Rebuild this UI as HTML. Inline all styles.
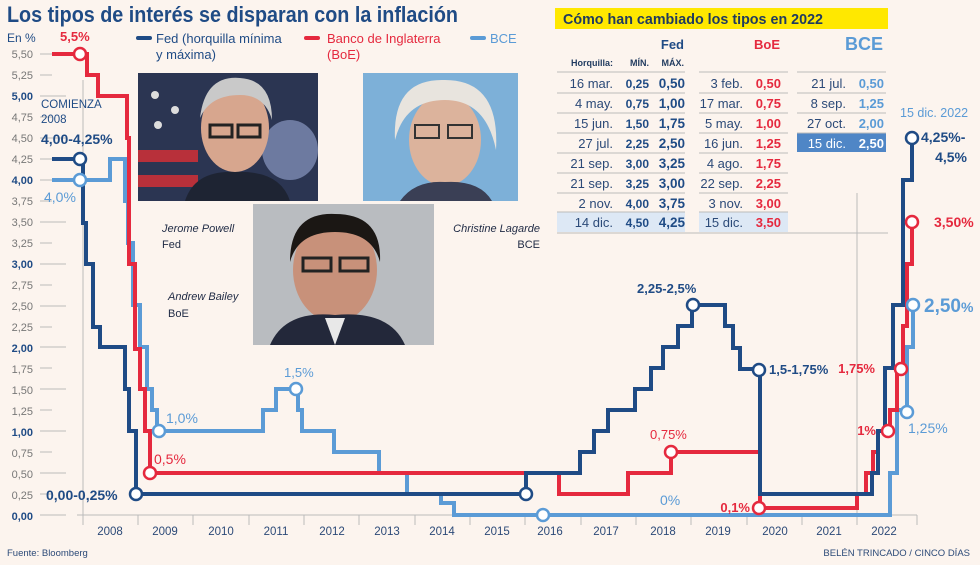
<!DOCTYPE html>
<html><head><meta charset="utf-8">
<style>
html,body{margin:0;padding:0;background:#fcf4ee;}
svg{display:block;font-family:"Liberation Sans",sans-serif;}
</style></head><body>
<svg width="980" height="565" viewBox="0 0 980 565" xmlns="http://www.w3.org/2000/svg">
<rect width="980" height="565" fill="#fcf4ee"/>
<text x="7" y="22" font-size="22" font-weight="bold" fill="#1f4b85" textLength="451" lengthAdjust="spacingAndGlyphs">Los tipos de interés se disparan con la inflación</text>

<!-- y axis -->
<g font-size="11" fill="#777" text-anchor="end">
<text x="7" y="42" text-anchor="start" font-size="12" fill="#1f4b85">En %</text>
<text x="33" y="58">5,50</text><text x="33" y="79">5,25</text>
<text x="33" y="100" font-weight="bold" fill="#1f4b85">5,00</text>
<text x="33" y="121">4,75</text><text x="33" y="142">4,50</text><text x="33" y="163">4,25</text>
<text x="33" y="184" font-weight="bold" fill="#1f4b85">4,00</text>
<text x="33" y="205">3,75</text><text x="33" y="226">3,50</text><text x="33" y="247">3,25</text>
<text x="33" y="268" font-weight="bold" fill="#1f4b85">3,00</text>
<text x="33" y="289">2,75</text><text x="33" y="310">2,50</text><text x="33" y="331">2,25</text>
<text x="33" y="352" font-weight="bold" fill="#1f4b85">2,00</text>
<text x="33" y="373">1,75</text><text x="33" y="394">1,50</text><text x="33" y="415">1,25</text>
<text x="33" y="436" font-weight="bold" fill="#1f4b85">1,00</text>
<text x="33" y="457">0,75</text><text x="33" y="478">0,50</text><text x="33" y="499">0,25</text>
<text x="33" y="520" font-weight="bold" fill="#1f4b85">0,00</text>
</g>
<g stroke="#bbb" stroke-width="1">
<line x1="40" y1="54" x2="52" y2="54"/><line x1="40" y1="75" x2="52" y2="75"/><line x1="40" y1="96" x2="66" y2="96"/>
<line x1="40" y1="117" x2="52" y2="117"/><line x1="40" y1="138" x2="66" y2="138"/><line x1="40" y1="159" x2="52" y2="159"/>
<line x1="40" y1="180" x2="66" y2="180"/><line x1="40" y1="201" x2="52" y2="201"/><line x1="40" y1="222" x2="66" y2="222"/>
<line x1="40" y1="243" x2="52" y2="243"/><line x1="40" y1="264" x2="66" y2="264"/><line x1="40" y1="285" x2="52" y2="285"/>
<line x1="40" y1="306" x2="66" y2="306"/><line x1="40" y1="327" x2="52" y2="327"/><line x1="40" y1="347" x2="66" y2="347"/>
<line x1="40" y1="368" x2="52" y2="368"/><line x1="40" y1="389" x2="66" y2="389"/><line x1="40" y1="410" x2="52" y2="410"/>
<line x1="40" y1="431" x2="66" y2="431"/><line x1="40" y1="452" x2="52" y2="452"/><line x1="40" y1="473" x2="66" y2="473"/>
<line x1="40" y1="494" x2="52" y2="494"/><line x1="40" y1="515" x2="66" y2="515"/>
<line x1="83" y1="80" x2="83" y2="515"/>
<line x1="857" y1="193" x2="857" y2="515"/>
<line x1="77" y1="515" x2="917" y2="515"/>
</g>
<g stroke="#bbb" stroke-width="1">
<line x1="83" y1="515" x2="83" y2="525"/><line x1="138" y1="515" x2="138" y2="525"/><line x1="193" y1="515" x2="193" y2="525"/>
<line x1="249" y1="515" x2="249" y2="525"/><line x1="304" y1="515" x2="304" y2="525"/><line x1="359" y1="515" x2="359" y2="525"/>
<line x1="415" y1="515" x2="415" y2="525"/><line x1="470" y1="515" x2="470" y2="525"/><line x1="525" y1="515" x2="525" y2="525"/>
<line x1="581" y1="515" x2="581" y2="525"/><line x1="636" y1="515" x2="636" y2="525"/><line x1="691" y1="515" x2="691" y2="525"/>
<line x1="747" y1="515" x2="747" y2="525"/><line x1="802" y1="515" x2="802" y2="525"/><line x1="857" y1="515" x2="857" y2="525"/>
<line x1="917" y1="515" x2="917" y2="525"/>
</g>
<g font-size="11.5" fill="#2c4a78" text-anchor="middle">
<text x="110" y="535">2008</text><text x="165" y="535">2009</text><text x="221" y="535">2010</text><text x="276" y="535">2011</text>
<text x="332" y="535">2012</text><text x="387" y="535">2013</text><text x="442" y="535">2014</text><text x="497" y="535">2015</text>
<text x="550" y="535">2016</text><text x="606" y="535">2017</text><text x="663" y="535">2018</text><text x="718" y="535">2019</text>
<text x="775" y="535">2020</text><text x="829" y="535">2021</text><text x="884" y="535">2022</text>
</g>

<!-- legend -->
<g font-size="13">
<line x1="138" y1="38" x2="150" y2="38" stroke="#1f4b85" stroke-width="4" stroke-linecap="round"/>
<text x="156" y="43" fill="#1f4b85">Fed (horquilla mínima</text><text x="156" y="59" fill="#1f4b85">y máxima)</text>
<line x1="306" y1="38" x2="318" y2="38" stroke="#e5293e" stroke-width="4" stroke-linecap="round"/>
<text x="327" y="43" fill="#e5293e">Banco de Inglaterra</text><text x="327" y="59" fill="#e5293e">(BoE)</text>
<line x1="472" y1="38" x2="484" y2="38" stroke="#5b9bd6" stroke-width="4" stroke-linecap="round"/>
<text x="490" y="43" fill="#5b9bd6">BCE</text>
</g>

<!-- photos -->
<defs>
<clipPath id="c1"><rect x="138" y="73" width="180" height="128"/></clipPath>
<clipPath id="c2"><rect x="363" y="73" width="155" height="128"/></clipPath>
<clipPath id="c3"><rect x="253" y="204" width="181" height="141"/></clipPath>
</defs>
<g clip-path="url(#c1)">
<rect x="138" y="73" width="180" height="128" fill="#2b3552"/>
<rect x="138" y="150" width="60" height="12" fill="#b8303a"/><rect x="138" y="175" width="60" height="12" fill="#b8303a"/>
<circle cx="155" cy="95" r="4" fill="#ddd"/><circle cx="175" cy="110" r="4" fill="#ddd"/><circle cx="158" cy="125" r="4" fill="#ddd"/>
<ellipse cx="290" cy="150" rx="28" ry="30" fill="#6d7aa0"/>
<ellipse cx="235" cy="128" rx="34" ry="44" fill="#d7a68e"/>
<path d="M200 118 Q205 75 240 78 Q272 80 272 120 Q265 95 240 95 Q210 95 200 118Z" fill="#c9c9c9"/>
<rect x="210" y="125" width="22" height="12" fill="none" stroke="#222" stroke-width="3"/><rect x="238" y="125" width="22" height="12" fill="none" stroke="#222" stroke-width="3"/>
<path d="M185 201 Q195 170 235 172 Q280 170 290 201Z" fill="#1e2433"/>
</g>
<g clip-path="url(#c2)">
<rect x="363" y="73" width="155" height="128" fill="#7db0d8"/>
<ellipse cx="445" cy="140" rx="36" ry="46" fill="#dcb39c"/>
<path d="M395 140 Q392 78 445 80 Q500 80 496 150 Q486 100 445 100 Q405 100 395 140Z" fill="#e8e4de"/>
<rect x="415" y="125" width="24" height="13" fill="none" stroke="#333" stroke-width="2"/><rect x="448" y="125" width="24" height="13" fill="none" stroke="#333" stroke-width="2"/>
<path d="M400 201 Q415 180 445 182 Q480 180 492 201Z" fill="#3a3f55"/>
</g>
<g clip-path="url(#c3)">
<rect x="253" y="204" width="181" height="141" fill="#b9bcc0"/>
<ellipse cx="335" cy="270" rx="42" ry="52" fill="#c8917a"/>
<path d="M290 262 Q290 212 335 214 Q382 214 380 262 Q372 232 335 232 Q298 232 290 262Z" fill="#1b1714"/>
<rect x="303" y="258" width="28" height="13" fill="none" stroke="#222" stroke-width="3"/><rect x="340" y="258" width="28" height="13" fill="none" stroke="#222" stroke-width="3"/>
<path d="M270 345 Q285 310 335 315 Q390 310 405 345Z" fill="#23283a"/>
<path d="M325 318 L335 345 L345 318Z" fill="#e8e8e8"/>
</g>
<g font-size="11" font-style="italic" fill="#1f2a44">
<text x="162" y="232">Jerome Powell</text><text x="162" y="248" font-style="normal">Fed</text>
<text x="168" y="300">Andrew Bailey</text><text x="168" y="317" font-style="normal">BoE</text>
<text x="540" y="232" text-anchor="end">Christine Lagarde</text><text x="540" y="248" text-anchor="end" font-style="normal">BCE</text>
</g>

<!-- series -->
<g fill="none" stroke-width="4" stroke-linejoin="miter">
<path stroke="#5b9bd6" d="M52 180 L110 180 L110 159 L125 159 L125 201 L128 201 L128 243 L133 243 L133 305 L140 305 L140 347 L147 347 L147 389 L152 389 L152 410 L157 410 L157 431 L263 431 L263 410 L276 410 L276 389 L298 389 L298 410 L302 410 L302 431 L334 431 L334 452 L379 452 L379 473 L407 473 L407 494 L441 494 L441 503 L454 503 L454 515 L890 515 L890 473 L897 473 L897 410 L907 410 L907 347 L913 347 L913 305"/>
<path stroke="#e5293e" d="M52 54 L87 54 L87 75 L98 75 L98 96 L127 96 L127 138 L129 138 L129 264 L135 264 L135 349 L140 349 L140 389 L145 389 L145 431 L150 431 L150 473 L559 473 L559 494 L628 494 L628 473 L671 473 L671 452 L760 452 L760 508 L857 508 L857 494 L866 494 L866 473 L873 473 L873 452 L878 452 L878 431 L890 431 L890 410 L897 410 L897 369 L903 369 L903 326 L907 326 L907 264 L912 264 L912 222"/>
<path stroke="#1f4b85" d="M52 159 L83 159 L83 223 L86 223 L86 264 L93 264 L93 327 L100 327 L100 347 L125 347 L125 389 L129 389 L129 431 L136 431 L136 494 L526 494 L526 473 L580 473 L580 452 L594 452 L594 431 L608 431 L608 410 L635 410 L635 389 L651 389 L651 368 L663 368 L663 347 L678 347 L678 326 L692 326 L692 305 L725 305 L725 326 L733 326 L733 348 L740 348 L740 369 L760 369 L760 494 L872 494 L872 473 L878 473 L878 431 L885 431 L885 368 L893 368 L893 305 L903 305 L903 180 L912 180 L912 138"/>
</g>
<g fill="#fff" stroke-width="2.5">
<circle cx="80" cy="159" r="6" stroke="#1f4b85"/><circle cx="80" cy="180" r="6" stroke="#5b9bd6"/><circle cx="80" cy="54" r="6" stroke="#e5293e"/>
<circle cx="136" cy="494" r="6" stroke="#1f4b85"/><circle cx="150" cy="473" r="6" stroke="#e5293e"/><circle cx="159" cy="431" r="6" stroke="#5b9bd6"/>
<circle cx="296" cy="389" r="6" stroke="#5b9bd6"/><circle cx="526" cy="494" r="6" stroke="#1f4b85"/><circle cx="543" cy="515" r="6" stroke="#5b9bd6"/>
<circle cx="671" cy="452" r="6" stroke="#e5293e"/><circle cx="693" cy="305" r="6" stroke="#1f4b85"/><circle cx="759" cy="370" r="6" stroke="#1f4b85"/>
<circle cx="759" cy="508" r="6" stroke="#e5293e"/><circle cx="888" cy="431" r="6" stroke="#e5293e"/><circle cx="901" cy="369" r="6" stroke="#e5293e"/>
<circle cx="907" cy="412" r="6" stroke="#5b9bd6"/><circle cx="913" cy="305" r="6" stroke="#5b9bd6"/><circle cx="912" cy="222" r="6" stroke="#e5293e"/>
<circle cx="912" cy="138" r="6" stroke="#1f4b85"/>
</g>

<!-- annotations -->
<g font-size="13" font-weight="bold">
<text x="60" y="41" fill="#e5293e">5,5%</text>
<text x="41" y="108" font-size="11.5" font-weight="normal" fill="#1f4b85">COMIENZA</text>
<text x="41" y="123" font-size="11.5" font-weight="normal" fill="#1f4b85">2008</text>
<text x="41" y="144" fill="#1f4b85" font-size="14">4,00-4,25%</text>
<text x="44" y="202" fill="#5b9bd6" font-weight="normal" font-size="14">4,0%</text>
<text x="46" y="500" fill="#1f4b85" font-size="14">0,00-0,25%</text>
<text x="154" y="464" fill="#e5293e" font-weight="normal" font-size="14">0,5%</text>
<text x="166" y="423" fill="#5b9bd6" font-weight="normal" font-size="14">1,0%</text>
<text x="284" y="377" fill="#5b9bd6" font-weight="normal" font-size="13">1,5%</text>
<text x="637" y="293" fill="#1f4b85">2,25-2,5%</text>
<text x="650" y="439" fill="#e5293e" font-weight="normal">0,75%</text>
<text x="660" y="505" fill="#5b9bd6" font-weight="normal" font-size="14">0%</text>
<text x="750" y="512" fill="#e5293e" text-anchor="end">0,1%</text>
<text x="769" y="374" fill="#1f4b85">1,5-1,75%</text>
<text x="875" y="373" fill="#e5293e" text-anchor="end">1,75%</text>
<text x="876" y="435" fill="#e5293e" text-anchor="end">1%</text>
<text x="908" y="433" fill="#5b9bd6" font-weight="normal" font-size="14">1,25%</text>
<text x="924" y="312" fill="#5b9bd6" font-size="19">2,50<tspan font-size="14">%</tspan></text>
<text x="934" y="227" fill="#e5293e" font-size="14">3,50%</text>
<text x="921" y="142" fill="#1f4b85" font-size="14">4,25%-</text>
<text x="967" y="162" fill="#1f4b85" font-size="14" text-anchor="end">4,5%</text>
<text x="900" y="117" fill="#5b9bd6" font-weight="normal" font-size="12.5">15 dic. 2022</text>
</g>

<!-- table -->
<rect x="555" y="8" width="333" height="21" fill="#ffe800"/>
<text x="563" y="24" font-size="15" font-weight="bold" fill="#1f3a5f" textLength="260" lengthAdjust="spacingAndGlyphs">Cómo han cambiado los tipos en 2022</text>
<text x="684" y="49" font-size="13" font-weight="bold" fill="#1f4b85" text-anchor="end">Fed</text>
<text x="780" y="49" font-size="13" font-weight="bold" fill="#e5293e" text-anchor="end">BoE</text>
<text x="883" y="50" font-size="18" font-weight="bold" fill="#5b9bd6" text-anchor="end">BCE</text>
<g font-size="9" font-weight="bold" fill="#1f3a5f">
<text x="613" y="66" text-anchor="end">Horquilla:</text><text x="649" y="66" text-anchor="end">MÍN.</text><text x="684" y="66" text-anchor="end">MÁX.</text>
</g>
<rect x="557" y="212" width="128" height="20" fill="#dde8f5"/>
<rect x="699" y="212" width="89" height="20" fill="#dde8f5"/>
<rect x="797" y="133" width="89" height="19" fill="#4f86c6"/>
<g stroke="#bbb" stroke-width="1">
<line x1="557" y1="72" x2="685" y2="72"/><line x1="557" y1="93" x2="685" y2="93"/><line x1="557" y1="113" x2="685" y2="113"/><line x1="557" y1="133" x2="685" y2="133"/><line x1="557" y1="153" x2="685" y2="153"/><line x1="557" y1="173" x2="685" y2="173"/><line x1="557" y1="193" x2="685" y2="193"/><line x1="557" y1="212" x2="685" y2="212"/>
<line x1="699" y1="72" x2="788" y2="72"/><line x1="699" y1="93" x2="788" y2="93"/><line x1="699" y1="113" x2="788" y2="113"/><line x1="699" y1="133" x2="788" y2="133"/><line x1="699" y1="153" x2="788" y2="153"/><line x1="699" y1="173" x2="788" y2="173"/><line x1="699" y1="193" x2="788" y2="193"/><line x1="699" y1="212" x2="788" y2="212"/>
<line x1="797" y1="72" x2="886" y2="72"/><line x1="797" y1="93" x2="886" y2="93"/><line x1="797" y1="113" x2="886" y2="113"/><line x1="797" y1="133" x2="886" y2="133"/>
<line x1="557" y1="233" x2="888" y2="233"/>
</g>
<g font-size="13" fill="#2c4a78" text-anchor="end">
<text x="613" y="88">16 mar.</text><text x="613" y="108">4 may.</text><text x="613" y="128">15 jun.</text><text x="613" y="148">27 jul.</text><text x="613" y="168">21 sep.</text><text x="613" y="188">21 sep.</text><text x="613" y="208">2 nov.</text><text x="613" y="227">14 dic.</text>
<g font-size="12" font-weight="bold" fill="#1f4b85"><text x="649" y="88">0,25</text><text x="649" y="108">0,75</text><text x="649" y="128">1,50</text><text x="649" y="148">2,25</text><text x="649" y="168">3,00</text><text x="649" y="188">3,25</text><text x="649" y="208">4,00</text><text x="649" y="227">4,50</text></g>
<g font-size="13.5" font-weight="bold" fill="#1f4b85"><text x="685" y="88">0,50</text><text x="685" y="108">1,00</text><text x="685" y="128">1,75</text><text x="685" y="148">2,50</text><text x="685" y="168">3,25</text><text x="685" y="188">3,00</text><text x="685" y="208">3,75</text><text x="685" y="227">4,25</text></g>
<text x="743" y="88">3 feb.</text><text x="743" y="108">17 mar.</text><text x="743" y="128">5 may.</text><text x="743" y="148">16 jun.</text><text x="743" y="168">4 ago.</text><text x="743" y="188">22 sep.</text><text x="743" y="208">3 nov.</text><text x="743" y="227">15 dic.</text>
<g font-weight="bold" fill="#e5293e"><text x="781" y="88">0,50</text><text x="781" y="108">0,75</text><text x="781" y="128">1,00</text><text x="781" y="148">1,25</text><text x="781" y="168">1,75</text><text x="781" y="188">2,25</text><text x="781" y="208">3,00</text><text x="781" y="227">3,50</text></g>
<text x="846" y="88">21 jul.</text><text x="846" y="108">8 sep.</text><text x="846" y="128">27 oct.</text><text x="846" y="148" fill="#fff">15 dic.</text>
<g font-weight="bold" fill="#5b9bd6"><text x="884" y="88">0,50</text><text x="884" y="108">1,25</text><text x="884" y="128">2,00</text><text x="884" y="148" fill="#fff">2,50</text></g>
</g>

<text x="7" y="556" font-size="9.5" fill="#2c4a78">Fuente: Bloomberg</text>
<text x="970" y="556" font-size="9.5" fill="#2c4a78" text-anchor="end">BELÉN TRINCADO / CINCO DÍAS</text>
</svg>
</body></html>
